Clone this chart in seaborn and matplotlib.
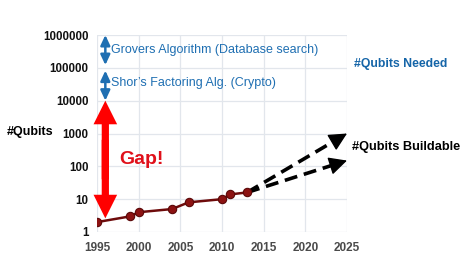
import numpy as np
import pandas as pd
import matplotlib
matplotlib.use("Agg")
import matplotlib.pyplot as plt
import seaborn as sns

years = [1995, 1999, 2000, 2004, 2006, 2010, 2011, 2013]
qubits = [2, 3, 4, 5, 8, 10, 14, 16]
proj_start = (2013, 16)
proj_ends_year = [2025, 2025]
proj_ends_val = [1000, 150]
ytick_vals = [1, 10, 100, 1000, 10000, 100000, 1000000]
xtick_vals = [1995, 2000, 2005, 2010, 2015, 2020, 2025]

sns.set_style("white")
plt.rcParams["font.family"] = ["Liberation Sans", "DejaVu Sans"]

fig = plt.figure(figsize=(4.74, 2.58), dpi=100)
ax = fig.add_axes([97/474, 1-232/258, 250/474, 197/258])

df = pd.DataFrame({"year": years, "qubits": qubits})
sns.lineplot(data=df, x="year", y="qubits", ax=ax, color="#6e0b0b", lw=1.8,
             marker="o", markersize=6, markerfacecolor="#8c1212",
             markeredgecolor="#5a0808", markeredgewidth=0.8, zorder=5)

ax.set_yscale("log")
ax.set_xlim(1995, 2025)
ax.set_ylim(1, 1000000)
ax.set_yticks(ytick_vals)
ax.set_yticklabels([str(v) for v in ytick_vals], fontsize=8.3, fontweight="bold", color="#111111")
ax.minorticks_off()
ax.set_xticks(xtick_vals)
ax.set_xticklabels([str(v) for v in xtick_vals], fontsize=8.5, fontweight="bold", color="#4a4a4a")
ax.tick_params(axis="y", length=0, pad=6)
ax.tick_params(axis="x", length=0, pad=7)
ax.set_xlabel("")
ax.set_ylabel("")
ax.grid(True, color="#e2e6ec", lw=0.9)
for s in ax.spines.values():
    s.set_visible(False)

# dashed projections
for ye, ve in zip(proj_ends_year, proj_ends_val):
    x0, v0 = proj_start
    t = 0.90
    xm = x0 + (ye - x0) * t
    vm = 10 ** (np.log10(v0) + (np.log10(ve) - np.log10(v0)) * t)
    ax.plot([x0, xm], [v0, vm], color="black", lw=2.6, ls=(0, (3.6, 1.9)),
            dash_capstyle="butt", clip_on=False, zorder=4)
    ax.annotate("", xy=(ye, ve), xytext=(xm, vm),
                arrowprops=dict(arrowstyle="-|>,head_width=0.4,head_length=0.8",
                                color="black", lw=1.0, mutation_scale=14,
                                shrinkA=0, shrinkB=0), annotation_clip=False)

# blue double arrows
blue = "#1f6fb2"
ax.annotate("", xy=(1996, 1000000), xytext=(1996, 100000),
            arrowprops=dict(arrowstyle="<|-|>,head_width=0.28,head_length=0.6",
                            color=blue, lw=1.8, mutation_scale=10, shrinkA=2, shrinkB=0))
ax.annotate("", xy=(1996, 100000), xytext=(1996, 10000),
            arrowprops=dict(arrowstyle="<|-|>,head_width=0.28,head_length=0.6",
                            color=blue, lw=1.8, mutation_scale=10, shrinkA=0, shrinkB=2))
ax.text(1996.7, 10**5.55, "Grovers Algorithm (Database search)", color=blue,
        fontsize=9, va="center", ha="left")
ax.text(1996.7, 10**4.55, "Shor\u2019s Factoring Alg. (Crypto)", color=blue,
        fontsize=9, va="center", ha="left")

# red gap arrow (two overlapping filled arrows)
gap_top, gap_bottom = 10000, 2.6
lt, lb = np.log10(gap_top), np.log10(gap_bottom)
mid = (lt + lb) / 2
for end, start in ((gap_top, 10 ** (mid - 0.6)), (gap_bottom, 10 ** (mid + 0.6))):
    ax.annotate("", xy=(1996, end), xytext=(1996, start),
                arrowprops=dict(arrowstyle="simple,head_length=0.85,head_width=0.85,tail_width=0.26",
                                color="#ff0000", lw=0, mutation_scale=20,
                                shrinkA=0, shrinkB=0), zorder=6)
ax.text(1997.7, 160, "Gap!", color="#e0101a", fontsize=14, fontweight="bold",
        va="center", ha="left")

ax.text(2025.85, 10**5.12, "#Qubits Needed", color="#1565a8", fontsize=8.8,
        fontweight="bold", va="center", ha="left", clip_on=False)
ax.text(2025.6, 380, "#Qubits Buildable", color="black", fontsize=9.2,
        fontweight="bold", va="center", ha="left", clip_on=False)
fig.text(7/474, 1-132/258, "#Qubits", color="black", fontsize=9,
         fontweight="bold", va="center", ha="left")

fig.savefig("out.png", dpi=100)
